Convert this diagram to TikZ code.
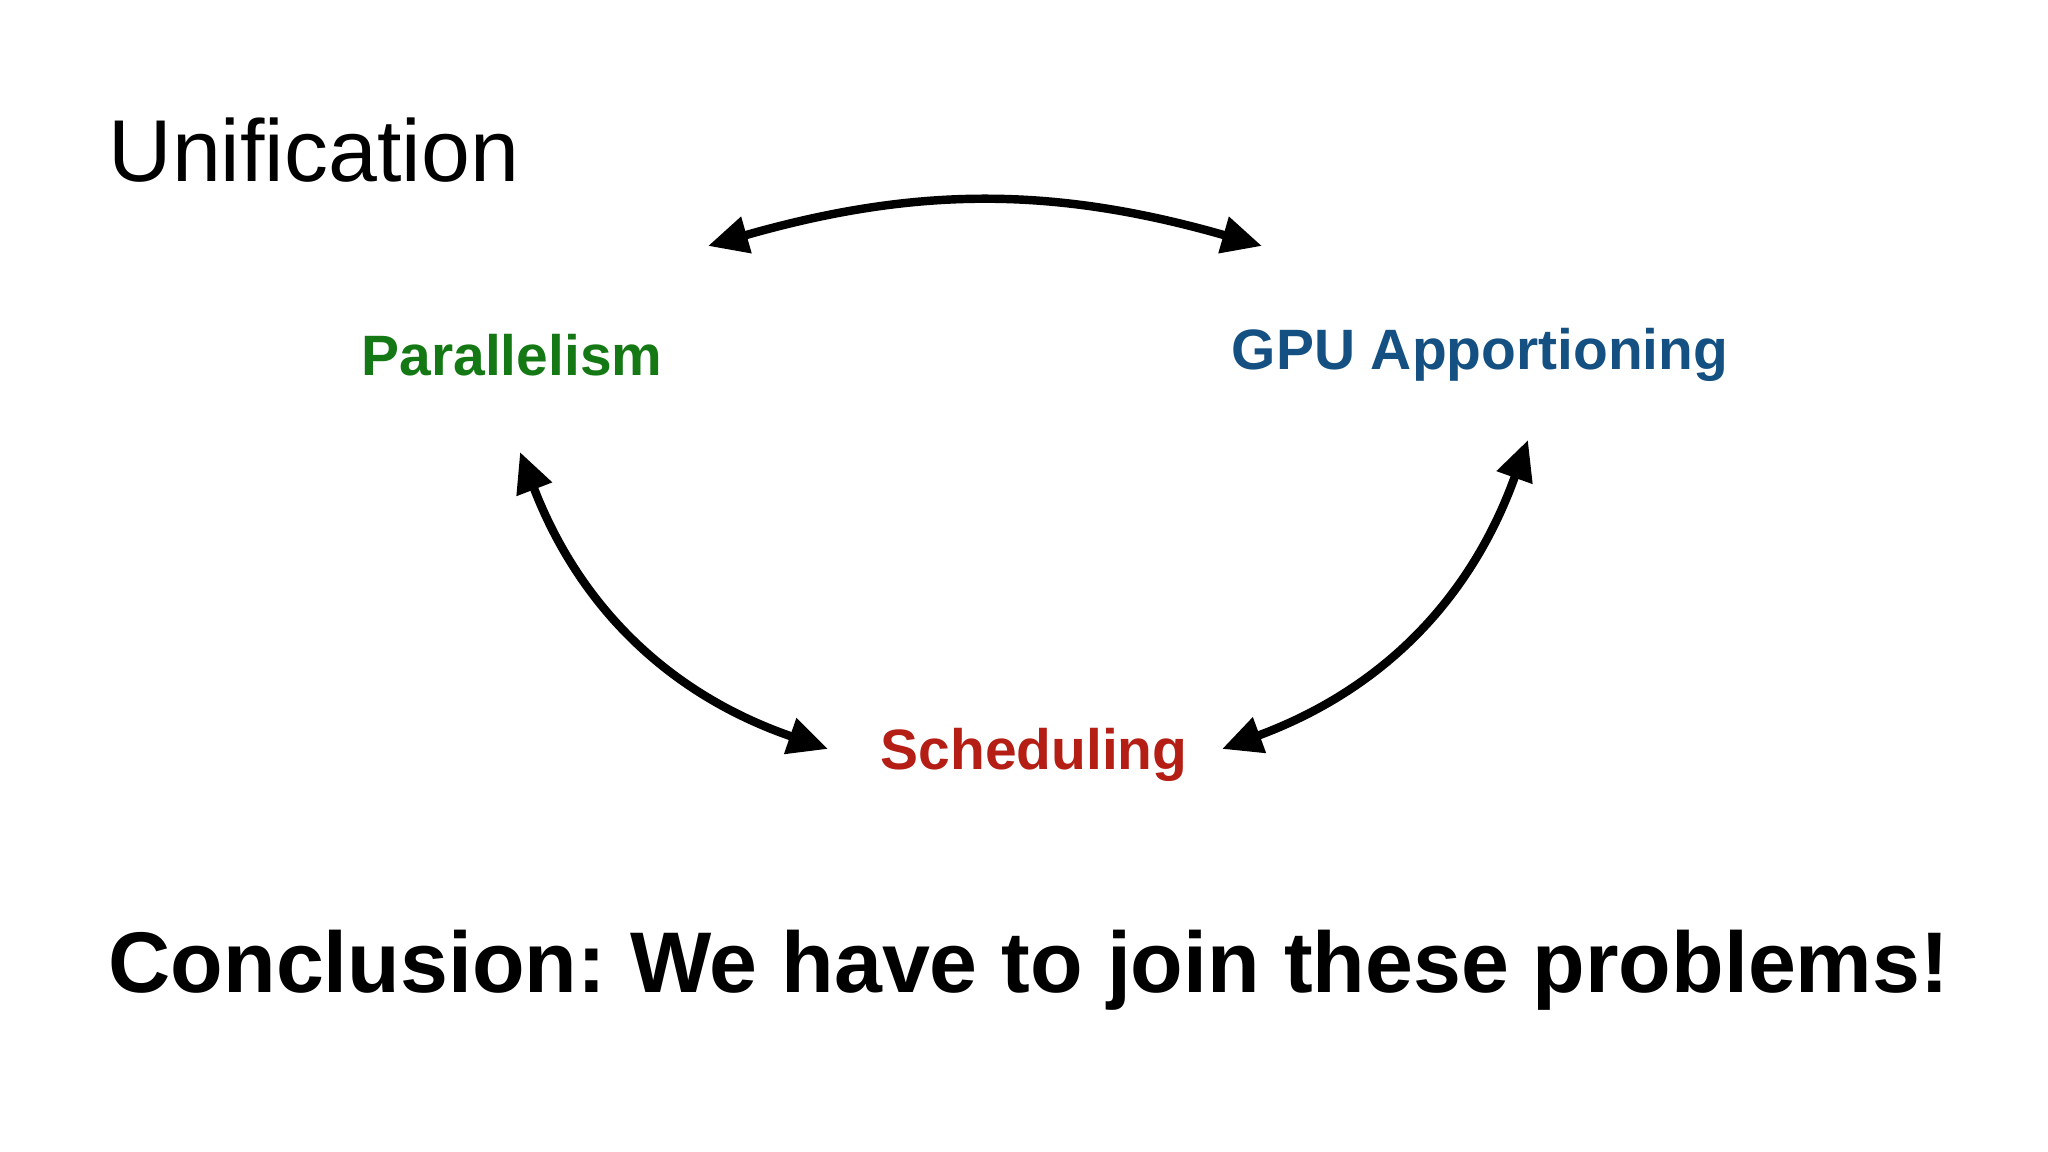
\documentclass[tikz,border=0pt]{standalone}
\usepackage{fontspec}
\setmainfont{Liberation Sans}
\usetikzlibrary{arrows.meta}
\definecolor{pgreen}{RGB}{20,120,20}
\definecolor{gblue}{RGB}{20,80,130}
\definecolor{sred}{RGB}{180,30,20}
\begin{document}
\frenchspacing
\begin{tikzpicture}
\useasboundingbox[fill=white] (0,0) rectangle (20.48,11.52);
\tikzset{lbl/.style={font=\bfseries\fontsize{16.2}{20}\selectfont, inner sep=0pt},
  conn/.style={line width=2.4pt, {Triangle[length=0.4cm,width=0.36cm]}-{Triangle[length=0.4cm,width=0.36cm]}}}
\node[anchor=west, inner sep=0pt, font=\fontsize{25}{30}\selectfont] (title) at (1.08,10.02) {Unification};
\node[lbl, text=pgreen] (par) at (5.12,7.97) {Parallelism};
\node[lbl, text=gblue] (gpu) at (14.80,7.97) {GPU Apportioning};
\node[lbl, text=sred] (sch) at (10.34,3.97) {Scheduling};
\node[anchor=west, inner sep=0pt, font=\bfseries\fontsize{24.5}{30}\selectfont] (conc) at (1.08,1.82) {Conclusion: We have to join these problems!};
\coordinate (a1) at (7.08,9.06);
\coordinate (a2) at (12.62,9.06);
\coordinate (b1) at (5.2,7.0);
\coordinate (b2) at (8.28,4.03);
\coordinate (c1) at (15.28,7.12);
\coordinate (c2) at (12.22,4.03);
\draw[conn] (a1) to[bend left=16] (a2);
\draw[conn] (b1) to[bend right=25] (b2);
\draw[conn] (c1) to[bend left=25] (c2);
\end{tikzpicture}
\end{document}
